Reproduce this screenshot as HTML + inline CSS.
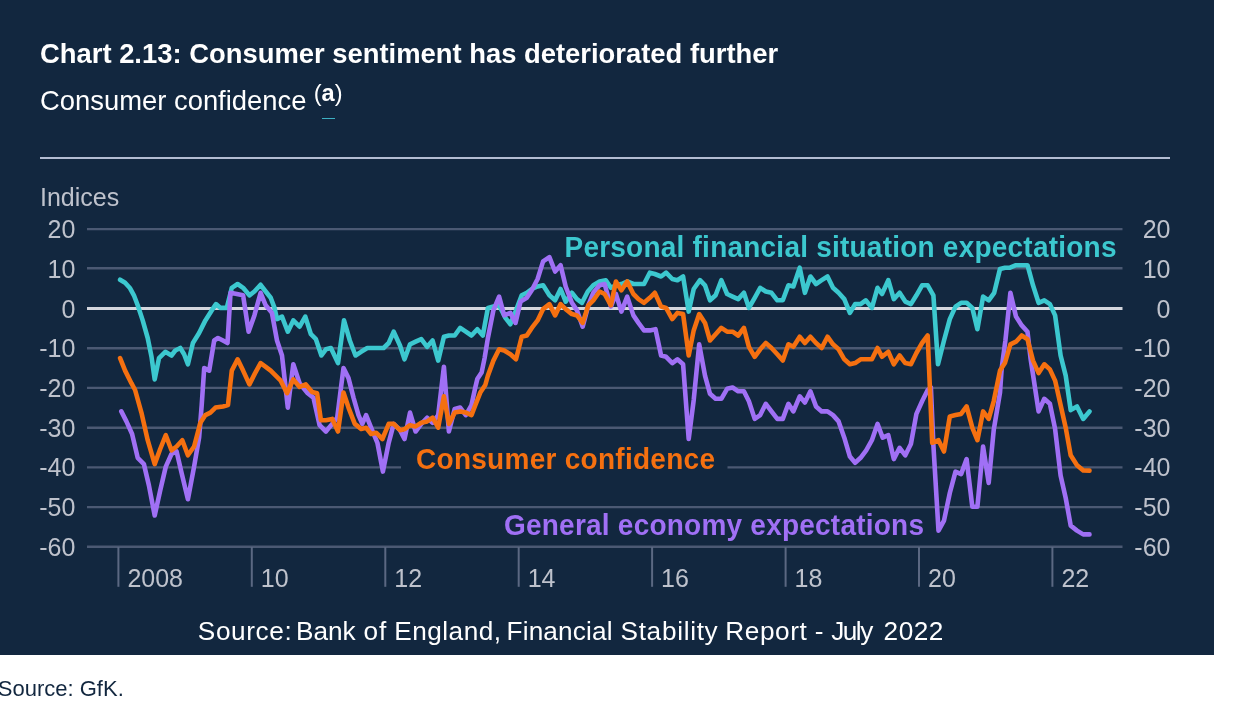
<!DOCTYPE html>
<html lang="en"><head><meta charset="utf-8"><title>Chart 2.13</title>
<style>
html,body{margin:0;padding:0;background:#fff;}
body{width:1236px;height:709px;position:relative;overflow:hidden;font-family:"Liberation Sans",Arial,sans-serif;}
#panel{position:absolute;left:0;top:0;width:1214px;height:654.5px;background:#12273f;}
h2{position:absolute;left:40px;top:37.7px;margin:0;font-size:27.4px;line-height:32px;font-weight:bold;color:#fff;white-space:nowrap;}
#sub{position:absolute;left:40px;top:85px;margin:0;font-size:27.4px;line-height:32px;color:#fff;white-space:nowrap;}
#sub sup{font-size:23.6px;font-weight:normal;line-height:0;vertical-align:baseline;position:relative;top:-9px;margin-left:7.2px;}
#sub sup i{font-style:normal;font-weight:bold;border-bottom:1.5px solid rgba(69,201,218,0.85);padding-bottom:12.3px;}
#rule{position:absolute;left:40px;top:157.3px;width:1130px;height:2px;background:#b3bcd2;}
svg{position:absolute;left:0;top:0;filter:blur(0.45px);}
.g{stroke:#4b5973;stroke-width:2.4;}
.z{stroke:#d4d6dd;stroke-width:3;}
.t{stroke:#5b6882;stroke-width:2;}
.ax{font-size:25px;fill:#bec2cc;font-family:"Liberation Sans",Arial,sans-serif;}
.ln{fill:none;stroke-width:4.6;stroke-linejoin:round;stroke-linecap:round;}
.lb{font-size:28px;font-weight:bold;font-family:"Liberation Sans",Arial,sans-serif;}
#src1{position:absolute;left:198px;top:615px;width:760px;height:32px;font-size:26.2px;line-height:32px;color:#fff;white-space:nowrap;}
#src1 span{position:absolute;top:0;}
#src2{position:absolute;left:-2.2px;top:676px;font-size:22px;line-height:26px;color:#12273f;white-space:nowrap;}
</style></head><body>
<div id="panel"></div>
<h2>Chart 2.13: Consumer sentiment has deteriorated further</h2>
<p id="sub">Consumer confidence<sup>(<i>a</i>)</sup></p>
<div id="rule"></div>
<svg width="1236" height="709" viewBox="0 0 1236 709">
<text x="40" y="206" class="ax">Indices</text>
<line x1="87" x2="1122.5" y1="229.1" y2="229.1" class="g"/>
<line x1="87" x2="1122.5" y1="268.3" y2="268.3" class="g"/>
<line x1="87" x2="1122.5" y1="348.2" y2="348.2" class="g"/>
<line x1="87" x2="1122.5" y1="387.9" y2="387.9" class="g"/>
<line x1="87" x2="1122.5" y1="427.7" y2="427.7" class="g"/>
<line x1="87" x2="1122.5" y1="507.1" y2="507.1" class="g"/>
<line x1="87" x2="1122.5" y1="546.8" y2="546.8" class="g"/>
<line x1="87" x2="401" y1="467.4" y2="467.4" class="g"/>
<line x1="727.5" x2="1122.5" y1="467.4" y2="467.4" class="g"/>
<line x1="87" x2="1122.5" y1="308.5" y2="308.5" class="z"/>
<line x1="118.4" x2="118.4" y1="547" y2="586.8" class="t"/>
<line x1="251.8" x2="251.8" y1="547" y2="586.8" class="t"/>
<line x1="385.3" x2="385.3" y1="547" y2="586.8" class="t"/>
<line x1="518.7" x2="518.7" y1="547" y2="586.8" class="t"/>
<line x1="652.1" x2="652.1" y1="547" y2="586.8" class="t"/>
<line x1="785.6" x2="785.6" y1="547" y2="586.8" class="t"/>
<line x1="919.0" x2="919.0" y1="547" y2="586.8" class="t"/>
<line x1="1052.4" x2="1052.4" y1="547" y2="586.8" class="t"/>
<text x="127.4" y="586.5" class="ax">2008</text>
<text x="260.8" y="586.5" class="ax">10</text>
<text x="394.3" y="586.5" class="ax">12</text>
<text x="527.7" y="586.5" class="ax">14</text>
<text x="661.1" y="586.5" class="ax">16</text>
<text x="794.6" y="586.5" class="ax">18</text>
<text x="928.0" y="586.5" class="ax">20</text>
<text x="1061.4" y="586.5" class="ax">22</text>
<text x="75.3" y="238.1" class="ax" text-anchor="end">20</text>
<text x="1170.5" y="238.1" class="ax" text-anchor="end">20</text>
<text x="75.3" y="277.8" class="ax" text-anchor="end">10</text>
<text x="1170.5" y="277.8" class="ax" text-anchor="end">10</text>
<text x="75.3" y="317.5" class="ax" text-anchor="end">0</text>
<text x="1170.5" y="317.5" class="ax" text-anchor="end">0</text>
<text x="75.3" y="357.2" class="ax" text-anchor="end">-10</text>
<text x="1170.5" y="357.2" class="ax" text-anchor="end">-10</text>
<text x="75.3" y="396.9" class="ax" text-anchor="end">-20</text>
<text x="1170.5" y="396.9" class="ax" text-anchor="end">-20</text>
<text x="75.3" y="436.7" class="ax" text-anchor="end">-30</text>
<text x="1170.5" y="436.7" class="ax" text-anchor="end">-30</text>
<text x="75.3" y="476.4" class="ax" text-anchor="end">-40</text>
<text x="1170.5" y="476.4" class="ax" text-anchor="end">-40</text>
<text x="75.3" y="516.1" class="ax" text-anchor="end">-50</text>
<text x="1170.5" y="516.1" class="ax" text-anchor="end">-50</text>
<text x="75.3" y="555.8" class="ax" text-anchor="end">-60</text>
<text x="1170.5" y="555.8" class="ax" text-anchor="end">-60</text>

<polyline class="ln" stroke="#3cc8cf" points="120.1,279.7 125.1,282.8 130.1,288.3 133.9,295.3 137.7,305.3 142.7,320.4 147.7,338.0 151.5,356.8 154.7,379.4 159.0,358.1 165.3,351.8 171.5,355.5 175.3,350.5 180.3,348.0 184.1,354.3 187.9,364.3 192.9,343.0 199.1,333.0 205.4,320.4 211.7,310.4 216.0,304.1 220.5,307.9 226.8,307.9 231.8,287.8 237.6,284.0 243.1,287.8 249.4,295.3 254.4,291.5 260.6,284.8 265.7,291.5 270.7,297.8 274.5,307.9 277.0,319.1 282.0,316.6 287.8,331.7 293.3,320.4 299.6,326.7 305.3,316.6 310.9,334.2 315.9,339.2 321.4,355.5 325.9,349.3 330.9,348.0 338.0,363.1 344.0,320.4 349.8,340.5 355.5,355.5 361.1,351.8 367.3,348.0 383.6,348.0 388.7,343.0 393.7,331.7 400.0,345.5 404.5,359.3 410.0,344.3 415.6,341.7 421.3,339.2 427.1,346.8 432.6,340.5 438.2,360.6 443.9,336.7 448.9,335.5 454.7,335.5 460.2,327.9 465.8,331.7 471.5,335.5 477.3,329.2 482.8,335.5 487.9,307.9 493.4,306.6 499.1,305.3 505.4,317.9 510.4,324.2 516.0,310.4 521.7,295.3 526.8,292.8 531.8,289.0 537.6,286.5 543.1,285.3 549.4,295.3 555.1,300.3 560.6,289.0 565.7,301.6 571.9,292.8 577.0,299.1 582.0,302.8 587.8,291.5 593.3,285.3 599.6,281.5 605.8,280.2 610.9,287.8 615.9,285.3 621.4,284.0 627.2,281.5 633.4,284.0 638.5,284.0 644.0,284.0 649.8,272.7 654.8,274.0 661.1,276.5 666.1,272.7 672.3,279.0 677.4,280.2 683.1,276.5 688.7,311.6 693.7,289.0 700.0,280.2 705.0,285.3 710.0,300.3 715.6,295.3 721.3,280.2 727.1,294.0 732.6,296.6 738.2,299.1 743.9,292.8 748.9,307.9 754.7,297.8 760.2,287.8 765.8,291.5 771.5,292.8 777.3,300.3 782.8,300.3 788.4,285.3 793.4,286.5 799.7,267.7 804.9,292.8 810.4,276.5 816.0,284.0 821.7,280.2 827.5,276.5 833.0,287.8 838.6,292.8 844.3,299.1 849.9,312.9 855.1,304.1 860.6,304.1 865.7,300.3 871.9,307.9 877.5,287.8 882.0,294.0 888.3,280.2 893.8,299.1 899.6,292.8 905.3,301.6 910.9,304.1 916.4,295.3 922.1,285.3 927.7,285.3 933.4,295.3 938.0,364.3 944.0,340.5 949.8,319.1 955.5,306.6 961.1,302.8 966.6,302.8 972.3,307.9 977.4,329.2 983.1,296.6 988.7,300.3 994.2,292.8 1000.0,268.9 1005.0,267.7 1010.0,267.7 1016.0,265.2 1021.7,265.2 1027.5,265.2 1033.0,285.3 1038.6,302.8 1044.3,300.3 1049.9,304.1 1055.1,315.4 1060.6,355.5 1065.7,375.6 1070.7,410.1 1077.0,406.4 1083.2,418.9 1089.5,411.4"/>
<polyline class="ln" stroke="#a070f5" points="121.3,411.4 126.4,421.4 132.1,434.0 137.7,457.8 143.9,464.1 148.9,485.4 154.7,515.5 160.2,490.4 165.8,466.6 171.5,454.0 176.6,451.5 181.6,472.9 187.9,499.2 194.1,466.6 199.1,437.7 201.7,405.1 204.2,368.1 209.2,370.6 214.2,340.5 218.0,338.0 223.0,340.5 227.5,343.0 230.5,292.8 236.8,294.0 243.1,295.3 248.6,331.7 254.4,315.4 260.6,292.8 265.7,305.3 271.9,312.9 277.0,340.5 282.0,355.5 287.8,407.6 293.3,364.3 299.6,383.2 307.1,392.6 313.4,397.6 319.6,425.2 325.9,431.5 332.2,423.9 337.2,417.7 341.0,387.5 343.5,368.1 348.5,378.1 353.5,397.6 358.5,415.1 362.3,423.9 366.1,415.1 371.1,427.7 377.4,442.8 382.9,471.6 388.7,442.8 393.7,423.9 400.0,430.2 404.5,439.0 410.0,412.6 415.6,431.5 421.3,423.9 427.1,417.7 432.6,422.7 438.2,415.1 443.9,366.8 448.9,431.5 454.7,408.9 460.2,407.6 465.8,415.1 471.5,405.1 475.3,387.5 477.3,379.1 481.6,372.6 484.6,358.1 487.9,338.0 493.4,310.4 499.1,296.6 504.2,315.4 510.4,312.9 515.5,322.9 520.5,301.6 526.8,297.8 531.8,290.3 537.6,279.0 543.1,261.4 549.4,257.1 555.1,271.5 560.6,265.2 565.7,286.5 571.9,302.8 577.0,310.4 582.7,326.7 588.3,305.3 593.3,292.8 599.6,285.3 604.6,284.0 610.9,306.6 615.9,294.0 621.4,311.6 627.2,296.6 633.4,315.4 638.5,322.9 644.0,330.4 649.8,330.4 655.5,329.2 661.1,355.5 666.1,356.8 672.3,363.1 677.4,359.3 683.1,364.3 688.7,439.0 693.7,400.1 699.2,344.3 705.0,375.6 710.0,393.8 715.6,398.8 721.3,398.8 727.1,388.8 732.6,387.5 738.2,391.3 743.9,391.3 748.9,401.3 754.7,418.9 760.2,415.1 765.8,403.8 771.5,411.4 777.3,418.9 782.8,418.9 788.4,403.8 793.4,411.4 799.7,396.3 804.9,402.6 810.4,391.3 816.0,406.4 821.7,411.4 827.5,411.4 833.0,415.1 838.6,421.4 844.3,437.7 849.9,456.6 855.1,462.8 860.6,457.8 866.2,450.3 871.9,440.2 877.5,423.9 882.7,437.7 888.3,435.2 893.8,459.1 899.6,447.8 905.3,455.3 910.9,444.0 916.4,413.9 922.1,401.3 927.7,390.0 930.9,387.5 933.4,445.3 938.5,530.6 944.0,520.6 949.8,493.0 955.5,471.6 961.1,474.1 966.6,459.1 972.3,506.8 977.4,506.8 983.1,446.5 988.7,482.9 993.7,430.2 1000.0,392.6 1001.7,368.1 1005.4,340.5 1010.4,292.8 1016.0,316.6 1021.7,325.4 1027.5,331.7 1030.5,358.1 1038.6,411.4 1044.3,398.8 1049.9,403.8 1055.1,428.9 1060.6,475.4 1065.7,498.0 1070.7,525.6 1077.0,530.6 1083.2,534.4 1089.5,534.4"/>
<polyline class="ln" stroke="#f57010" points="120.1,358.1 125.1,370.6 131.4,383.2 135.1,390.0 141.4,412.6 147.7,440.2 154.7,464.1 160.2,449.0 165.8,435.2 171.5,450.3 176.6,446.5 182.3,440.2 187.9,455.3 194.1,446.5 200.4,422.7 205.4,415.1 210.4,412.6 215.5,407.6 223.0,406.4 228.0,405.1 231.8,370.6 237.6,359.3 243.1,370.6 249.4,384.4 255.1,373.1 260.6,363.1 265.7,366.8 270.7,370.6 275.7,375.6 280.7,380.6 287.0,393.2 293.3,379.4 299.6,386.9 305.8,384.4 312.1,391.9 317.1,393.2 320.9,420.2 325.9,420.2 332.2,418.9 338.0,431.5 343.5,392.6 348.5,407.6 354.8,423.9 361.1,428.9 366.1,427.7 371.1,434.0 376.1,432.7 382.4,439.0 388.7,423.9 393.7,423.9 400.0,430.2 405.0,428.9 410.0,425.2 415.6,426.4 421.3,422.7 427.1,421.4 432.6,417.7 438.2,427.7 443.9,396.3 448.9,423.9 454.7,412.6 460.2,411.4 465.8,412.6 471.5,415.1 475.3,405.1 480.3,392.6 485.3,385.0 487.9,375.6 493.4,360.6 499.1,349.3 504.2,350.5 510.4,354.3 516.0,359.3 521.7,336.7 526.8,335.5 531.8,327.9 537.6,320.4 543.1,309.1 549.4,304.1 555.1,315.4 560.6,304.1 565.7,309.1 571.9,314.1 577.0,315.4 582.7,322.9 588.3,305.3 593.3,300.3 599.6,291.5 604.6,294.0 610.9,305.3 615.9,281.5 621.4,290.3 627.2,281.5 633.4,294.0 638.5,299.1 644.0,302.8 649.8,297.8 654.8,292.8 661.1,306.6 666.1,307.9 672.3,319.1 677.4,312.9 683.1,314.1 688.7,355.5 693.7,330.4 699.2,314.1 705.0,322.9 710.0,340.5 715.6,334.2 721.3,327.9 727.1,331.7 732.6,331.7 738.2,335.5 743.9,327.9 748.9,346.8 754.7,356.8 760.2,349.3 765.8,343.0 771.5,348.0 777.3,354.3 782.8,360.6 788.4,344.3 793.4,346.8 799.7,336.7 804.9,343.0 810.4,336.7 816.0,343.0 821.7,348.0 827.5,336.7 833.0,344.3 838.6,349.3 844.3,359.3 849.9,364.3 855.1,363.1 860.6,359.3 865.7,359.3 871.9,359.3 877.5,348.0 882.0,356.8 888.3,351.8 893.8,364.3 899.6,355.5 905.3,363.1 910.9,364.3 916.4,353.0 922.1,343.0 927.7,335.5 932.2,442.8 938.5,440.2 944.0,451.5 949.8,416.4 955.5,415.1 961.1,413.9 966.6,406.4 972.3,427.7 977.4,440.2 983.1,411.4 988.7,418.9 993.7,401.3 1000.0,370.6 1004.9,363.1 1010.4,344.3 1016.0,341.7 1021.7,335.5 1027.5,339.2 1033.0,360.6 1038.6,373.1 1044.3,364.3 1049.9,369.4 1055.1,380.6 1060.6,405.1 1065.7,427.7 1070.7,455.3 1077.0,465.3 1083.2,470.4 1089.5,470.6"/>
<text transform="translate(564.5,256.8) scale(1,1.08)" class="lb" fill="#3cc8cf" textLength="552" lengthAdjust="spacing">Personal financial situation expectations</text>
<text transform="translate(416,468.7) scale(1,1.08)" class="lb" fill="#f57010" textLength="299" lengthAdjust="spacing">Consumer confidence</text>
<text transform="translate(504,534.5) scale(1,1.08)" class="lb" fill="#a070f5" textLength="420" lengthAdjust="spacing">General economy expectations</text>
</svg>
<div id="src1"><span style="left:-0.2px;letter-spacing:0.6px">Source:</span> <span style="left:98.1px;letter-spacing:-0.1px">Bank</span> <span style="left:165.5px;letter-spacing:1.0px">of</span> <span style="left:196.2px;letter-spacing:0.5px">England,</span> <span style="left:308.5px;letter-spacing:0.16px">Financial</span> <span style="left:422.5px;letter-spacing:0.69px">Stability</span> <span style="left:527.3px;letter-spacing:0.59px">Report</span> <span style="left:616.7px;letter-spacing:0px">-</span> <span style="left:633.2px;letter-spacing:-1.5px">July</span> <span style="left:685.6px;letter-spacing:0.5px">2022</span></div>
<div id="src2">Source: GfK.</div>
</body></html>
